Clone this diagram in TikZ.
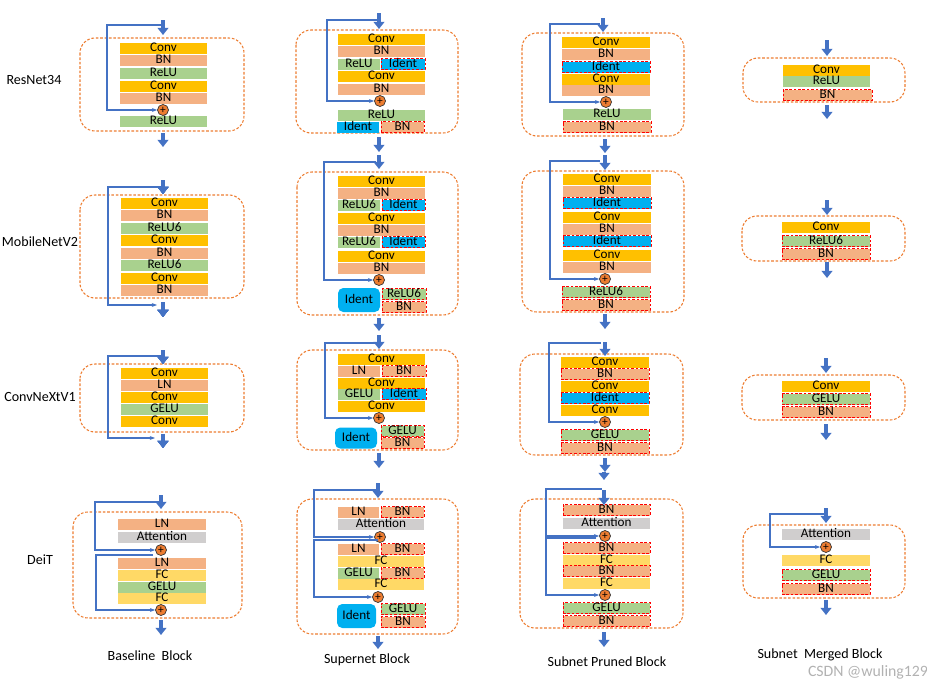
\documentclass[tikz,border=0pt]{standalone}
\usepackage{fontspec}
\setmainfont{Carlito}
\usetikzlibrary{positioning, arrows.meta, calc}
\definecolor{conv}{RGB}{255,192,0}
\definecolor{bnc}{RGB}{244,177,131}
\definecolor{relu}{RGB}{169,209,142}
\definecolor{ident}{RGB}{0,176,240}
\definecolor{attn}{RGB}{208,206,206}
\definecolor{fcc}{RGB}{255,217,102}
\definecolor{blkc}{RGB}{237,125,49}
\definecolor{lineb}{RGB}{68,114,196}
\tikzset{
  lay/.style={inner sep=0pt, minimum height=0.22cm, text height=0.15cm, text depth=0pt, font=\fontsize{7.5}{7.5}\selectfont},
  sub/.style={draw=red, dash pattern=on 1.5pt off 1pt, line width=0.5pt},
  blk/.style={draw=blkc, dash pattern=on 1.5pt off 1pt, line width=0.6pt, rounded corners=0.3cm},
  plus/.style={circle, draw=black!80, fill=blkc, inner sep=0pt, minimum size=0.22cm, font=\fontsize{6.5}{6.5}\selectfont},
  flow/.style={draw=lineb, line width=2pt, -{Triangle[width=6pt,length=4pt]}},
  res/.style={draw=lineb, line width=0.7pt, -{Stealth[length=3pt]}},
  lbl/.style={font=\fontsize{8}{8}\selectfont}
}
\newcommand\lay[7][]{\node[lay,fill=#6,minimum width={(#4-#3)*0.02cm},#1] (#2) at ({(#3+#4)/2},#5) {#7};}
\newcommand\arr[4]{\coordinate (#1a) at (#2,#3); \coordinate (#1b) at (#2,#4); \draw[flow] (#1a) -- (#1b);}
\newcommand\res[5]{\coordinate (#1) at (#2,#3); \draw[res] (#1) -- (#4,#3) |- (#5);}
\newcommand\pl[3]{\node[plus] (#1) at (#2,#3) {+};}
\begin{document}
\begin{tikzpicture}[x=0.02cm, y=-0.02cm]
\useasboundingbox (0,0) rectangle (927,683);
% Row labels
\node[lbl] (lres) at (34,80) {ResNet34};
\node[lbl] (lmob) at (40,242) {MobileNetV2};
\node[lbl] (lcnx) at (40,397) {ConvNeXtV1};
\node[lbl] (ldei) at (40,560) {DeiT};
% Column labels
\node[lbl] (la) at (150,656) {Baseline\ \ Block};
\node[lbl] (lb) at (367,660) {Supernet Block};
\node[lbl] (lc) at (607,662) {Subnet Pruned Block};
\node[lbl] (ld) at (820,655) {Subnet\ \ Merged Block};
\node[font=\fontsize{9}{9}\selectfont, text=black!30] (wm) at (868,672) {CSDN @wuling129};

% ---- Baseline ----
\draw[blk] (80,38) rectangle (244,131);
\lay{a1c1}{120}{207}{48}{conv}{Conv}
\lay{a1b1}{120}{207}{60}{bnc}{BN}
\lay{a1r1}{120}{207}{73}{relu}{ReLU}
\lay{a1c2}{120}{207}{86}{conv}{Conv}
\lay{a1b2}{120}{207}{98}{bnc}{BN}
\pl{a1p}{163}{110}
\lay{a1r2}{120}{207}{121}{relu}{ReLU}
\arr{a1i}{163}{20}{35}
\arr{a1o}{163}{133}{147}
\res{a1s}{162}{25}{107}{a1p.west}

\draw[blk] (80,195) rectangle (244,298);
\foreach \y/\c/\t [count=\k] in {203/conv/Conv,215/bnc/BN,228/relu/ReLU6,240/conv/Conv,253/bnc/BN,265/relu/ReLU6,278/conv/Conv,290/bnc/BN}
  \lay{a2l\k}{121}{208}{\y}{\c}{\t}
\arr{a2i}{163}{180}{194}
\arr{a2o}{163}{302}{317}
\coordinate (a2e) at (157,305);
\res{a2s}{163}{187}{108}{a2e}

\draw[blk] (80,364) rectangle (244,432);
\foreach \y/\c/\t [count=\k] in {373/conv/Conv,385/bnc/LN,397/conv/Conv,409/relu/GELU,421/conv/Conv}
  \lay{a3l\k}{121}{208}{\y}{\c}{\t}
\arr{a3i}{163}{350}{364}
\arr{a3o}{163}{434}{448}
\coordinate (a3e) at (155,438);
\res{a3s}{162}{356}{108}{a3e}

\draw[blk] (73,512) rectangle (242,618);
\lay{a4l1}{118}{206}{524}{bnc}{LN}
\lay{a4at}{118}{206}{537}{attn}{Attention}
\pl{a4p1}{161}{550}
\lay{a4l2}{118}{206}{563}{bnc}{LN}
\lay{a4f1}{118}{206}{575}{fcc}{FC}
\lay{a4g}{118}{206}{587}{relu}{GELU}
\lay{a4f2}{118}{206}{598}{fcc}{FC}
\pl{a4p2}{161}{610}
\arr{a4i}{161}{495}{509}
\arr{a4o}{161}{620}{635}
\res{a4s1}{160}{502}{95}{a4p1.west}
\res{a4s2}{153}{555}{96}{a4p2.west}

% ---- Supernet ----
\draw[blk] (296,30) rectangle (458,133);
\lay{b1c1}{338}{425}{39}{conv}{Conv}
\lay{b1b1}{338}{425}{51}{bnc}{BN}
\lay{b1r1}{338}{380}{64}{relu}{ReLU}
\lay[sub]{b1d1}{381}{425}{64}{ident}{Ident}
\lay{b1c2}{338}{425}{76}{conv}{Conv}
\lay{b1b2}{338}{425}{89}{bnc}{BN}
\pl{b1p}{380}{101}
\lay{b1r2}{338}{425}{115}{relu}{ReLU}
\lay{b1d2}{337}{379}{127}{ident}{Ident}
\lay[sub]{b1b3}{381}{424}{127}{bnc}{BN}
\arr{b1i}{379}{13}{29}
\arr{b1o}{379}{137}{152}
\res{b1s}{377}{20}{327}{b1p.west}

\draw[blk] (297,172) rectangle (458,315);
\lay{b2c1}{338}{425}{181}{conv}{Conv}
\lay{b2b1}{338}{425}{193}{bnc}{BN}
\lay{b2r1}{338}{380}{205}{relu}{ReLU6}
\lay[sub]{b2d1}{382}{425}{205}{ident}{Ident}
\lay{b2c2}{338}{425}{218}{conv}{Conv}
\lay{b2b2}{338}{425}{230}{bnc}{BN}
\lay{b2r2}{338}{380}{242}{relu}{ReLU6}
\lay[sub]{b2d2}{382}{425}{242}{ident}{Ident}
\lay{b2c3}{338}{425}{256}{conv}{Conv}
\lay{b2b3}{338}{425}{268}{bnc}{BN}
\pl{b2p}{379}{280}
\lay[minimum height=0.48cm, rounded corners=3pt]{b2d3}{338}{380}{300}{ident}{Ident}
\lay[sub]{b2r3}{382}{426}{294}{relu}{ReLU6}
\lay[sub]{b2b4}{382}{426}{307}{bnc}{BN}
\arr{b2i}{379}{155}{169}
\arr{b2o}{379}{318}{331}
\res{b2s}{376}{162}{324}{b2p.west}

\draw[blk] (297,350) rectangle (458,450);
\lay{b3c1}{338}{425}{359}{conv}{Conv}
\lay{b3n1}{338}{380}{371}{bnc}{LN}
\lay[sub]{b3b1}{382}{426}{371}{bnc}{BN}
\lay{b3c2}{338}{425}{383}{conv}{Conv}
\lay{b3g1}{338}{380}{394}{relu}{GELU}
\lay[sub]{b3d1}{382}{426}{394}{ident}{Ident}
\lay{b3c3}{338}{425}{406}{conv}{Conv}
\pl{b3p}{379}{418}
\lay[minimum height=0.42cm, rounded corners=3pt]{b3d2}{335}{377}{438}{ident}{Ident}
\lay[sub]{b3g2}{381}{424}{431}{relu}{GELU}
\lay[sub]{b3b2}{381}{424}{443}{bnc}{BN}
\arr{b3i}{379}{335}{349}
\arr{b3o}{379}{453}{468}
\res{b3s}{376}{343}{325}{b3p.west}

\draw[blk] (297,499) rectangle (458,634);
\lay{b4n1}{338}{379}{512}{bnc}{LN}
\lay[sub]{b4b1}{381}{424}{512}{bnc}{BN}
\lay{b4at}{338}{424}{524}{attn}{Attention}
\pl{b4p1}{380}{537}
\lay{b4n2}{338}{379}{549}{bnc}{LN}
\lay[sub]{b4b2}{381}{424}{549}{bnc}{BN}
\lay{b4f1}{338}{424}{561}{fcc}{FC}
\lay{b4g1}{338}{379}{573}{relu}{GELU}
\lay[sub]{b4b3}{381}{424}{573}{bnc}{BN}
\lay{b4f2}{338}{424}{584}{fcc}{FC}
\pl{b4p2}{378}{597}
\lay[minimum height=0.48cm, rounded corners=3pt]{b4d}{337}{376}{616}{ident}{Ident}
\lay[sub]{b4g2}{381}{425}{609}{relu}{GELU}
\lay[sub]{b4b4}{381}{425}{622}{bnc}{BN}
\arr{b4i}{378}{483}{498}
\arr{b4o}{378}{636}{649}
\res{b4s1}{376}{490}{314}{b4p1.west}
\res{b4s2}{378}{540}{314}{b4p2.west}

% ---- Pruned ----
\draw[blk] (522,33) rectangle (684,136);
\lay{c1c1}{562}{650}{42}{conv}{Conv}
\lay{c1b1}{562}{650}{54}{bnc}{BN}
\lay[sub]{c1d1}{562}{650}{67}{ident}{Ident}
\lay{c1c2}{562}{650}{79}{conv}{Conv}
\lay{c1b2}{562}{650}{90}{bnc}{BN}
\pl{c1p}{606}{102}
\lay{c1r}{563}{651}{114}{relu}{ReLU}
\lay[sub]{c1b3}{563}{651}{127}{bnc}{BN}
\arr{c1i}{603}{18}{32}
\arr{c1o}{605}{139}{153}
\res{c1s}{600}{24}{550}{c1p.west}

\draw[blk] (522,171) rectangle (684,312);
\lay{c2c1}{563}{651}{179}{conv}{Conv}
\lay{c2b1}{563}{651}{191}{bnc}{BN}
\lay[sub]{c2d1}{563}{651}{203}{ident}{Ident}
\lay{c2c2}{563}{651}{217}{conv}{Conv}
\lay{c2b2}{563}{651}{229}{bnc}{BN}
\lay[sub]{c2d2}{563}{651}{241}{ident}{Ident}
\lay{c2c3}{563}{651}{255}{conv}{Conv}
\lay{c2b3}{563}{651}{267}{bnc}{BN}
\pl{c2p}{605}{279}
\lay[sub]{c2r}{562}{650}{292}{relu}{ReLU6}
\lay[sub]{c2b4}{562}{650}{305}{bnc}{BN}
\arr{c2i}{605}{155}{170}
\arr{c2o}{605}{314}{329}
\res{c2s}{600}{161}{550}{c2p.west}

\draw[blk] (520,354) rectangle (683,455);
\lay{c3c1}{561}{649}{362}{conv}{Conv}
\lay[sub]{c3b1}{561}{649}{374}{bnc}{BN}
\lay{c3c2}{561}{649}{386}{conv}{Conv}
\lay[sub]{c3d}{561}{649}{398}{ident}{Ident}
\lay{c3c3}{561}{649}{410}{conv}{Conv}
\pl{c3p}{605}{422}
\lay[sub]{c3g}{561}{649}{435}{relu}{GELU}
\lay[sub]{c3b2}{561}{649}{448}{bnc}{BN}
\arr{c3i}{605}{342}{356}
\arr{c3o}{605}{458}{472}
\res{c3s}{601}{343}{549}{c3p.west}

\draw[blk] (520,499) rectangle (683,628);
\lay[sub]{c4b1}{563}{650}{510}{bnc}{BN}
\lay{c4at}{563}{650}{523}{attn}{Attention}
\pl{c4p1}{605}{536}
\lay[sub]{c4b2}{563}{650}{548}{bnc}{BN}
\lay{c4f1}{563}{650}{560}{fcc}{FC}
\lay[sub]{c4b3}{563}{650}{571}{bnc}{BN}
\lay{c4f2}{563}{650}{583}{fcc}{FC}
\pl{c4p2}{605}{595}
\lay[sub]{c4g}{563}{650}{608}{relu}{GELU}
\lay[sub]{c4b4}{563}{650}{621}{bnc}{BN}
\arr{c4t}{604}{472}{480}
\arr{c4i}{604}{490}{505}
\arr{c4o}{604}{632}{647}
\res{c4s1}{602}{489}{546}{c4p1.west}
\res{c4s2}{596}{538}{546}{c4p2.west}

% ---- Merged ----
\draw[blk] (743,58) rectangle (905,102);
\lay{d1c}{783}{870}{70}{conv}{Conv}
\lay{d1r}{783}{870}{81}{relu}{ReLU}
\lay[sub]{d1b}{783}{872}{95}{bnc}{BN}
\arr{d1i}{827}{40}{56}
\arr{d1o}{827}{105}{119}

\draw[blk] (742,216) rectangle (905,261);
\lay{d2c}{782}{870}{227}{conv}{Conv}
\lay[sub]{d2r}{782}{870}{241}{relu}{ReLU6}
\lay[sub]{d2b}{782}{870}{254}{bnc}{BN}
\arr{d2i}{827}{200}{215}
\arr{d2o}{827}{262}{278}

\draw[blk] (742,375) rectangle (905,420);
\lay{d3c}{782}{870}{386}{conv}{Conv}
\lay[sub]{d3g}{782}{870}{399}{relu}{GELU}
\lay[sub]{d3b}{782}{870}{412}{bnc}{BN}
\arr{d3i}{826}{358}{373}
\arr{d3o}{826}{424}{440}

\draw[blk] (743,525) rectangle (905,598);
\lay{d4at}{782}{870}{534}{attn}{Attention}
\pl{d4p}{826}{547}
\lay{d4f}{782}{870}{560}{fcc}{FC}
\lay[sub]{d4g}{782}{870}{575}{relu}{GELU}
\lay[sub]{d4b}{782}{870}{589}{bnc}{BN}
\arr{d4i}{826}{508}{523}
\arr{d4o}{826}{600}{615}
\res{d4s}{824}{514}{770}{d4p.west}
\end{tikzpicture}
\end{document}
